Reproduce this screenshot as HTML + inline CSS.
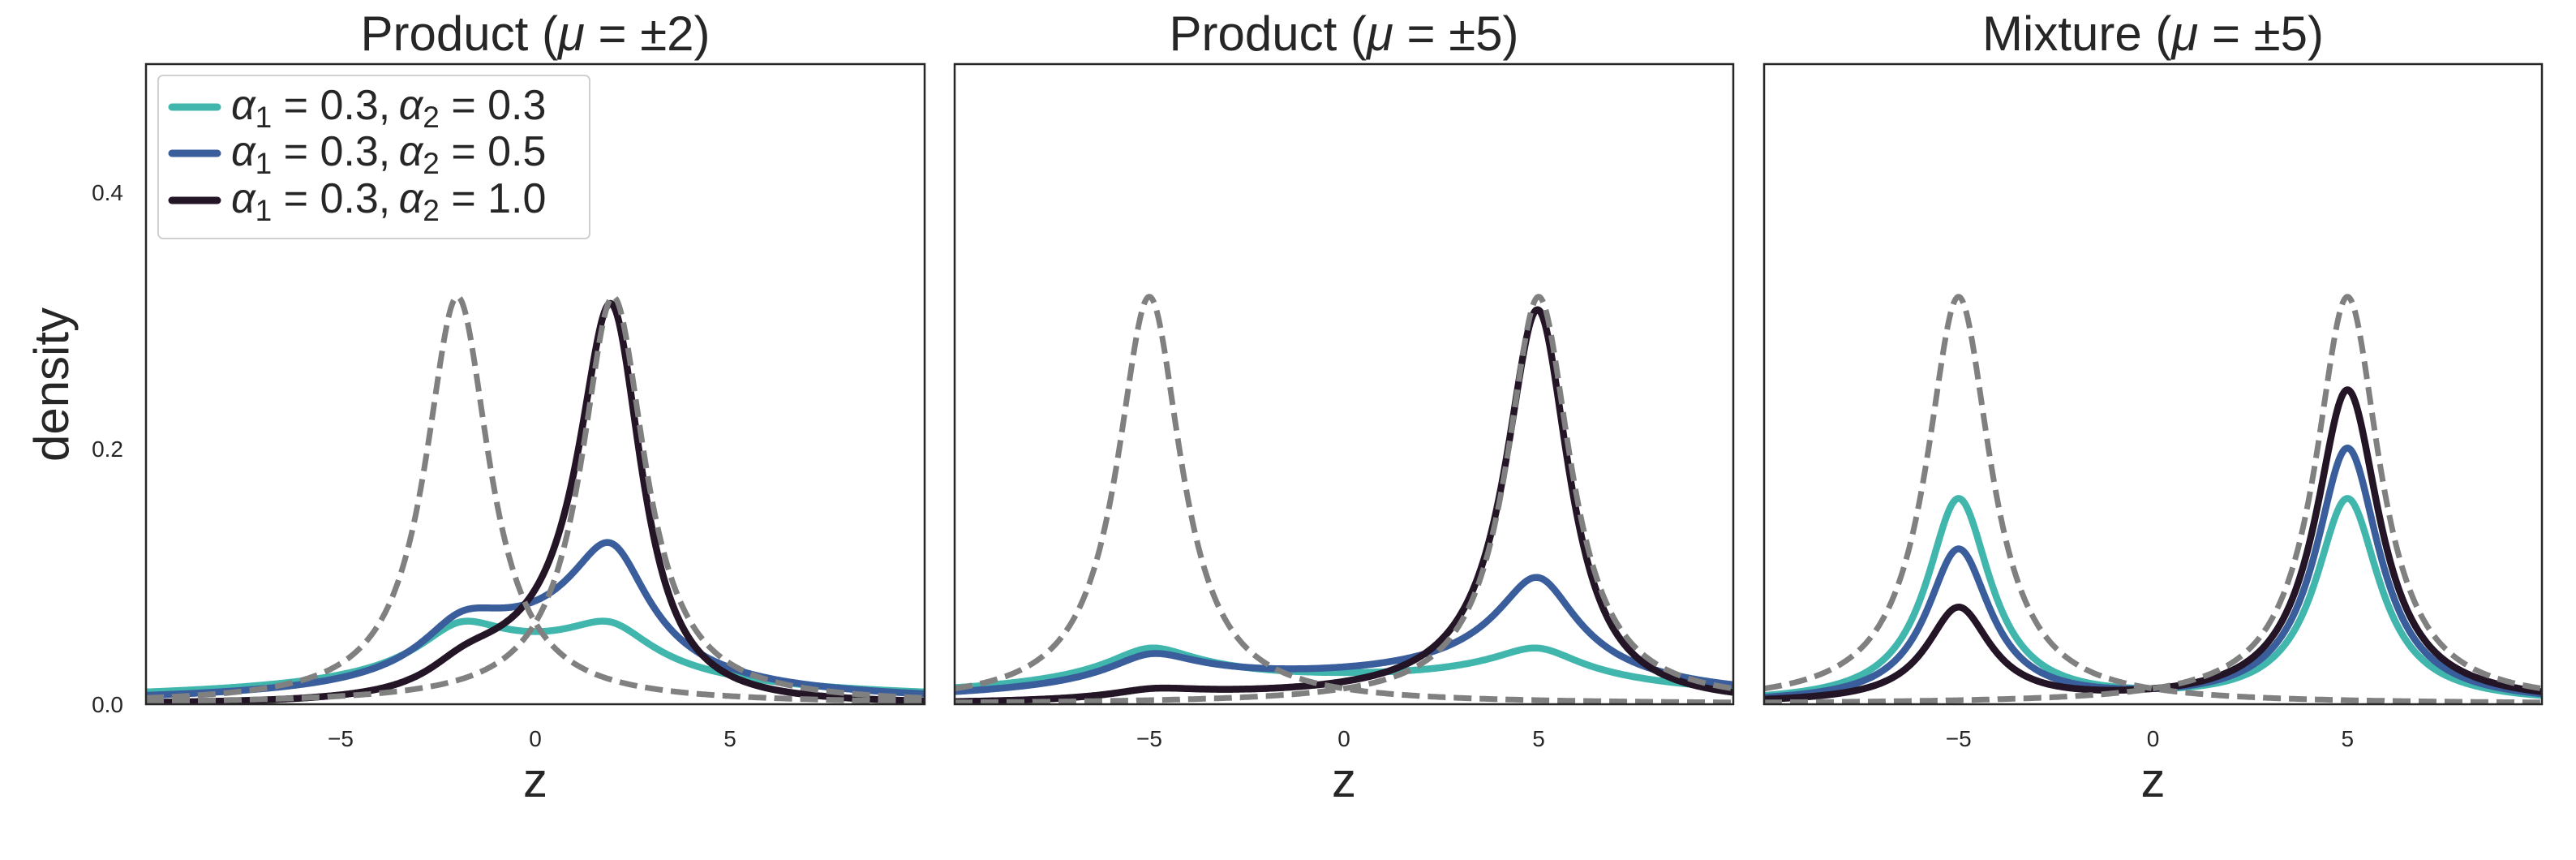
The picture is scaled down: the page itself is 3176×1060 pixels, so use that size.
<!DOCTYPE html>
<html><head><meta charset="utf-8"><style>
html,body{margin:0;padding:0;background:#fff;}
svg{display:block;}
text{font-family:"Liberation Sans","DejaVu Sans",sans-serif;fill:#262626;}
</style></head><body>
<svg id="s" width="3176" height="1060" xmlns="http://www.w3.org/2000/svg"></svg>
<script>
const svg=document.getElementById('s');
const NS='http://www.w3.org/2000/svg';
function el(t,a,txt){const e=document.createElementNS(NS,t);for(const k in a)e.setAttribute(k,a[k]);if(txt!==undefined)e.textContent=txt;svg.appendChild(e);return e;}
const TOP=79,BOT=868,YS=(BOT-TOP)/0.5;
const panels=[{l:180,r:1140,mu:2,type:'prod',k:[1.57,1.06,1.0],title:['Product (','μ',' = ±2)']},
{l:1177,r:2137,mu:5,type:'prod',k:[1.67,1.075,1.0],title:['Product (','μ',' = ±5)']},
{l:2175,r:3134,mu:5,type:'mix',title:['Mixture (','μ',' = ±5)']}];
const C=(x,m)=>1/(Math.PI*(1+(x-m)*(x-m)));
const alphas=[[0.3,0.3],[0.3,0.5],[0.3,1.0]];
const cols=['#41b6ad','#3a5d9c','#231526'];
function prodFn(mu,a1,a2,k){
  const f=x=>Math.pow(C(x,-mu),a1)*Math.pow(C(x,mu),a2);
  const L=3000,h=0.02;let s=0;
  for(let x=-L;x<=L;x+=h){s+=f(x)*h;}
  const sx=a1+a2;
  s+=2*Math.pow(Math.PI,-sx)*Math.pow(L,1-2*sx)/(2*sx-1);
  return x=>k*f(x)/s;
}
function mixFn(mu,a1,a2){const w=a1/(a1+a2);return x=>w*C(x,-mu)+(1-w)*C(x,mu);}
function path(p,f){
  const X=x=>p.l+(x+10)/20*(p.r-p.l);
  let d='';
  for(let i=0;i<=800;i++){const x=-10+20*i/800;const y=BOT-f(x)*YS;d+=(i?'L':'M')+X(x).toFixed(1)+' '+y.toFixed(1);}
  return d;
}
let clipId=0;
for(const p of panels){
  const cx=(p.l+p.r)/2;
  const cid='c'+(clipId++);
  const cp=el('clipPath',{id:cid});
  const r=document.createElementNS(NS,'rect');r.setAttribute('x',p.l);r.setAttribute('y',TOP);r.setAttribute('width',p.r-p.l);r.setAttribute('height',BOT-TOP);cp.appendChild(r);
  const g=el('g',{'clip-path':'url(#'+cid+')'});
  const add=(d,c,w,dash)=>{const e=document.createElementNS(NS,'path');e.setAttribute('d',d);e.setAttribute('fill','none');e.setAttribute('stroke',c);e.setAttribute('stroke-width',w);e.setAttribute('stroke-linejoin','round');if(dash)e.setAttribute('stroke-dasharray',dash);g.appendChild(e);};
  alphas.forEach((a,i)=>{const f=p.type==='prod'?prodFn(p.mu,a[0],a[1],p.k[i]):mixFn(p.mu,a[0],a[1]);add(path(p,f),cols[i],8.5);});
  add(path(p,x=>C(x,-p.mu)),'#808080',7,'22 10');
  add(path(p,x=>C(x,p.mu)),'#808080',7,'22 10');
  el('rect',{x:p.l,y:TOP,width:p.r-p.l,height:BOT-TOP,fill:'none',stroke:'#262626','stroke-width':2.5});
  for(const v of [-5,0,5]){const X=p.l+(v+10)/20*(p.r-p.l);el('text',{x:X,y:920,'font-size':28,'text-anchor':'middle'},v<0?'−5':String(v));}
  el('text',{x:cx,y:982,'font-size':60,'text-anchor':'middle'},'z');
  const t=el('text',{x:cx,y:62,'font-size':60,'text-anchor':'middle'});
  p.title.forEach((s,i)=>{const ts=document.createElementNS(NS,'tspan');ts.textContent=s;if(i===1)ts.setAttribute('font-style','italic');t.appendChild(ts);});
}
[['0.0',868],['0.2',553],['0.4',237]].forEach(([s,y])=>el('text',{x:152,y:y+10,'font-size':28,'text-anchor':'end'},s));
el('text',{x:0,y:0,'font-size':60,'text-anchor':'middle',transform:'translate(84,474) rotate(-90)'},'density');
el('rect',{x:195,y:93,width:532,height:201,rx:6,fill:'#fff',stroke:'#d0d0d0','stroke-width':2});
const ly=[132,189,247];
alphas.forEach((a,i)=>{
  el('line',{x1:212,x2:268,y1:ly[i],y2:ly[i],stroke:cols[i],'stroke-width':9,'stroke-linecap':'round'});
  const t=el('text',{x:285,y:ly[i]+15,'font-size':52});
  const parts=[['α','i'],['1','sub'],[' = 0.3,\u2009','up'],['α','i'],['2','sub'],[' = '+a[1].toFixed(1),'up']];
  for(const [s,k] of parts){const ts=document.createElementNS(NS,'tspan');ts.textContent=s;if(k==='i')ts.setAttribute('font-style','italic');if(k==='sub'){ts.setAttribute('font-size','37');ts.setAttribute('dy','10');}if(k==='up')ts.setAttribute('dy','-10');t.appendChild(ts);}
});
</script>
</body></html>
